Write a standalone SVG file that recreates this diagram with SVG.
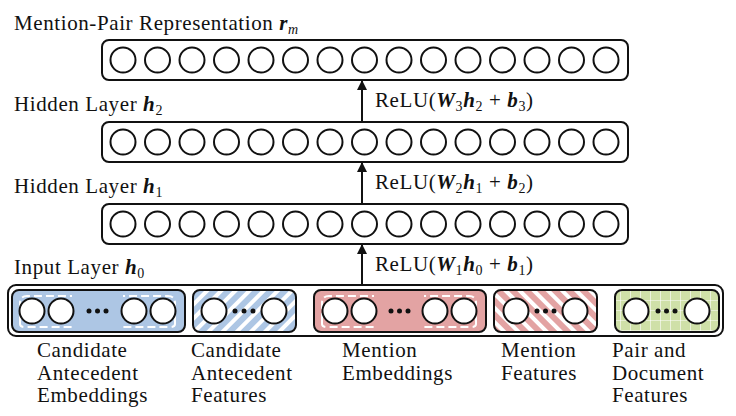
<svg xmlns="http://www.w3.org/2000/svg" width="736" height="416" viewBox="0 0 736 416">
<defs>
<style>
text{font-family:"Liberation Serif","DejaVu Serif",serif;font-size:21px;letter-spacing:0.6px;fill:#111}
.lay{fill:#fff;stroke:#111;stroke-width:2}
.c{fill:#fff;stroke:#111;stroke-width:2}
.dash{fill:none;stroke:#fff;stroke-width:2;stroke-dasharray:8 4}
.con{stroke:#111;stroke-width:2;fill:none}
</style>
<pattern id="hb" width="10" height="10" patternUnits="userSpaceOnUse" patternTransform="rotate(45)"><rect width="10" height="10" fill="#adc6e4"/><rect width="4" height="10" fill="#fff"/></pattern>
<pattern id="hr" width="10" height="10" patternUnits="userSpaceOnUse" patternTransform="rotate(-45)"><rect width="10" height="10" fill="#e3a3a3"/><rect width="4" height="10" fill="#fff"/></pattern>
<pattern id="gg" width="10" height="10" patternUnits="userSpaceOnUse"><rect width="10" height="10" fill="#cfe0a8"/><path d="M0 0H10M0 0V10" stroke="#fff" stroke-width="1.2"/></pattern>
<marker id="ar" viewBox="0 0 10 10" refX="9" refY="5" markerWidth="5" markerHeight="6" orient="auto"><path d="M0 0L10 5L0 10z" fill="#111"/></marker>
<g id="row"><circle class="c" cx="123" cy="0" r="12.5"/><circle class="c" cx="157.5" cy="0" r="12.5"/><circle class="c" cx="192" cy="0" r="12.5"/><circle class="c" cx="226.5" cy="0" r="12.5"/><circle class="c" cx="261" cy="0" r="12.5"/><circle class="c" cx="295.5" cy="0" r="12.5"/><circle class="c" cx="330" cy="0" r="12.5"/><circle class="c" cx="364.5" cy="0" r="12.5"/><circle class="c" cx="399" cy="0" r="12.5"/><circle class="c" cx="433.5" cy="0" r="12.5"/><circle class="c" cx="468" cy="0" r="12.5"/><circle class="c" cx="502.5" cy="0" r="12.5"/><circle class="c" cx="537" cy="0" r="12.5"/><circle class="c" cx="571.5" cy="0" r="12.5"/><circle class="c" cx="606" cy="0" r="12.5"/></g>
</defs>
<g id="rm"><text x="14" y="30">Mention-Pair Representation <tspan font-weight="bold" font-style="italic">r</tspan><tspan font-style="italic" font-size="14" dy="4">m</tspan></text><rect class="lay" x="102" y="40" width="526" height="40" rx="7"/><use href="#row" y="60"/></g>
<g id="h2"><text x="14" y="111">Hidden Layer <tspan font-weight="bold" font-style="italic">h</tspan><tspan font-size="14" dy="4">2</tspan></text><rect class="lay" x="102" y="122" width="526" height="40" rx="7"/><use href="#row" y="142"/></g>
<g id="h1"><text x="14" y="193">Hidden Layer <tspan font-weight="bold" font-style="italic">h</tspan><tspan font-size="14" dy="4">1</tspan></text><rect class="lay" x="102" y="204" width="526" height="40" rx="7"/><use href="#row" y="224"/></g>
<g id="h0"><text x="14" y="274">Input Layer <tspan font-weight="bold" font-style="italic">h</tspan><tspan font-size="14" dy="4">0</tspan></text><rect class="lay" x="8" y="285" width="715" height="51" rx="8"/></g>
<g id="cae"><rect x="12" y="290" width="173" height="42" rx="7" fill="#adc6e4" stroke="#111" stroke-width="2"/><path class="dash" d="M20 321V303q0-7 7-7H72M175 321V303q0-7-7-7H123M20 321v3q0 3 5 3H72M175 321v3q0 3-5 3H123"/><circle class="c" cx="32" cy="311" r="12.5"/><circle class="c" cx="61" cy="311" r="12.5"/><circle class="c" cx="134" cy="311" r="12.5"/><circle class="c" cx="163" cy="311" r="12.5"/><g fill="#111"><circle cx="89" cy="311" r="2.5"/><circle cx="97.5" cy="311" r="2.5"/><circle cx="106" cy="311" r="2.5"/></g><text x="37" y="357">Candidate</text><text x="37" y="380">Antecedent</text><text x="37" y="402">Embeddings</text></g>
<g id="caf"><rect x="193" y="290" width="103" height="42" rx="7" fill="url(#hb)" stroke="#111" stroke-width="2"/><circle class="c" cx="214" cy="311" r="12.5"/><circle class="c" cx="274" cy="311" r="12.5"/><g fill="#111"><circle cx="235" cy="311" r="2.5"/><circle cx="244" cy="311" r="2.5"/><circle cx="253" cy="311" r="2.5"/></g><text x="191" y="357">Candidate</text><text x="191" y="380">Antecedent</text><text x="191" y="402">Features</text></g>
<g id="me"><rect x="314" y="290" width="172" height="42" rx="7" fill="#e3a3a3" stroke="#111" stroke-width="2"/><path class="dash" d="M322 321V303q0-7 7-7H374M476 321V303q0-7-7-7H424M322 321v3q0 3 5 3H374M476 321v3q0 3-5 3H424"/><circle class="c" cx="335" cy="311" r="12.5"/><circle class="c" cx="364" cy="311" r="12.5"/><circle class="c" cx="435" cy="311" r="12.5"/><circle class="c" cx="464" cy="311" r="12.5"/><g fill="#111"><circle cx="391" cy="311" r="2.5"/><circle cx="399.5" cy="311" r="2.5"/><circle cx="408" cy="311" r="2.5"/></g><text x="342" y="357">Mention</text><text x="342" y="380">Embeddings</text></g>
<g id="mf"><rect x="494" y="290" width="103" height="42" rx="7" fill="url(#hr)" stroke="#111" stroke-width="2"/><circle class="c" cx="516" cy="311" r="12.5"/><circle class="c" cx="575" cy="311" r="12.5"/><g fill="#111"><circle cx="537" cy="311" r="2.5"/><circle cx="545.5" cy="311" r="2.5"/><circle cx="554" cy="311" r="2.5"/></g><text x="501" y="357">Mention</text><text x="501" y="380">Features</text></g>
<g id="pd"><rect x="615" y="290" width="104" height="42" rx="7" fill="url(#gg)" stroke="#111" stroke-width="2"/><circle class="c" cx="636" cy="311" r="12.5"/><circle class="c" cx="697" cy="311" r="12.5"/><g fill="#111"><circle cx="658" cy="311" r="2.5"/><circle cx="666.5" cy="311" r="2.5"/><circle cx="675" cy="311" r="2.5"/></g><text x="612" y="357">Pair and</text><text x="612" y="380">Document</text><text x="612" y="402">Features</text></g>
<g id="connectors">
<line class="con" x1="362" y1="285" x2="362" y2="245" marker-end="url(#ar)"/>
<line class="con" x1="362" y1="204" x2="362" y2="163" marker-end="url(#ar)"/>
<line class="con" x1="362" y1="122" x2="362" y2="81" marker-end="url(#ar)"/>
<text x="375" y="271">ReLU(<tspan font-weight="bold" font-style="italic">W</tspan><tspan font-size="14" dy="4">1</tspan><tspan font-weight="bold" font-style="italic" dy="-4">h</tspan><tspan font-size="14" dy="4">0</tspan><tspan dy="-4"> + </tspan><tspan font-weight="bold" font-style="italic">b</tspan><tspan font-size="14" dy="4">1</tspan><tspan dy="-4">)</tspan></text>
<text x="375" y="189">ReLU(<tspan font-weight="bold" font-style="italic">W</tspan><tspan font-size="14" dy="4">2</tspan><tspan font-weight="bold" font-style="italic" dy="-4">h</tspan><tspan font-size="14" dy="4">1</tspan><tspan dy="-4"> + </tspan><tspan font-weight="bold" font-style="italic">b</tspan><tspan font-size="14" dy="4">2</tspan><tspan dy="-4">)</tspan></text>
<text x="375" y="107">ReLU(<tspan font-weight="bold" font-style="italic">W</tspan><tspan font-size="14" dy="4">3</tspan><tspan font-weight="bold" font-style="italic" dy="-4">h</tspan><tspan font-size="14" dy="4">2</tspan><tspan dy="-4"> + </tspan><tspan font-weight="bold" font-style="italic">b</tspan><tspan font-size="14" dy="4">3</tspan><tspan dy="-4">)</tspan></text>
</g>
</svg>
